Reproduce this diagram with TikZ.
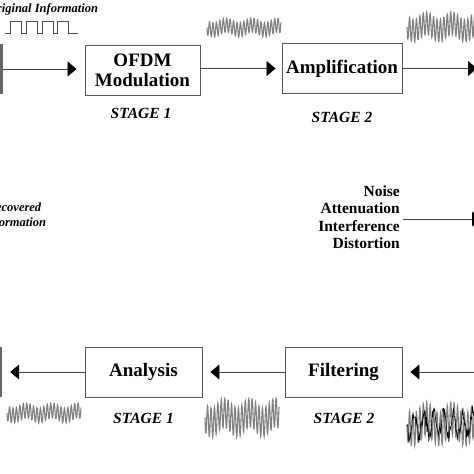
\documentclass[tikz,border=0pt]{standalone}
\usepackage{fontspec}
\setmainfont{Liberation Serif}
\usetikzlibrary{arrows.meta}

\tikzset{
    box/.style={draw=black!65, line width=0.9pt, minimum height=50pt, align=center,
        font=\fontsize{19}{20}\selectfont\bfseries},
    bar/.style={fill=black!60, minimum width=3pt, minimum height=50pt, inner sep=0pt},
    stage/.style={font=\fontsize{15.5}{17}\selectfont\bfseries\itshape},
    note/.style={font=\fontsize{12.5}{15}\selectfont\bfseries\itshape, align=center},
    flow/.style={black!75, line width=0.8pt, -{Triangle[length=9pt,width=15pt,color=black]}},
    wave/.style={black!50, line width=1.1pt},
}

\begin{document}
\begin{tikzpicture}[x=1pt, y=-1pt]
    \useasboundingbox (0,0) rectangle (474,474);
    \clip (0,0) rectangle (474,474);
    \pgfmathsetseed{7}

    % transmitter
    \node[note, anchor=base] (orig) at (43,12.5) {Original Information};
    \draw[black!70, line width=0.8pt] (5,33)
        \foreach \p in {10,26,42,57} { -- (\p,33) -- (\p,21) -- (\p+11,21) -- (\p+11,33) }
        -- (78,33);

    \node[bar] (src) at (1.5,69) {};
    \node[box, minimum width=115pt] (ofdm) at (142.5,70) {OFDM\\Modulation};
    \node[box, minimum width=120pt] (amp) at (342,68.5) {Amplification};
    \coordinate (txout) at (477,68.5);

    \node[stage] (tx1) at (141,113) {STAGE 1};
    \node[stage] (tx2) at (342,117) {STAGE 2};

    \draw[flow, shorten >=8pt] (src.east) -- (src.east -| ofdm.west);
    \draw[flow, shorten >=6pt] (ofdm.east |- amp) -- (amp.west);
    \draw[flow] (amp.east) -- (txout);

    \draw[wave] plot[domain=0:74, samples=300]
        ({207+\x}, {27.5+9.5*(0.75*sin(105*\x)+0.25*sin(14*\x))});
    \draw[wave] plot[domain=0:70, samples=300]
        ({407+\x}, {27+15*(0.75*sin(105*\x)+0.25*sin(14*\x))});

    % channel
    \node[note] (recov) at (14.5,216) {Recovered\\Information};
    \node[anchor=east, align=right, inner sep=3pt,
        font=\fontsize{15.5}{17.4}\selectfont\bfseries] (noise) at (403,217)
        {Noise\\Attenuation\\Interference\\Distortion};
    \coordinate (chout) at (481,219);
    \draw[flow] (noise.east |- chout) -- (chout);

    % receiver
    \coordinate (rxin) at (490,372);
    \node[box, minimum width=117pt] (filter) at (343.5,372) {Filtering};
    \node[box, minimum width=117pt] (analysis) at (143.5,372) {Analysis};
    \node[bar, minimum width=2pt] (sink) at (1,372) {};

    \node[stage] (rx1) at (143.5,418) {STAGE 1};
    \node[stage] (rx2) at (344,418) {STAGE 2};

    \draw[flow, shorten >=8pt] (rxin) -- (filter.east);
    \draw[flow, shorten >=8pt] (filter.west) -- (analysis.east);
    \draw[flow, shorten >=8pt] (analysis.west) -- (sink.east);

    \draw[wave] plot[domain=0:74, samples=300]
        ({7+\x}, {413+10*(0.75*sin(105*\x)+0.25*sin(14*\x))});
    \draw[wave] plot[domain=0:74, samples=300]
        ({205+\x}, {417.5+19.5*(0.75*sin(105*\x)+0.25*sin(14*\x))});
    \draw[wave] plot[domain=0:70, samples=300]
        ({407+\x}, {424+22*(0.75*sin(105*\x)+0.25*sin(14*\x))});
    \draw[black, line width=0.6pt] plot[domain=0:70, samples=120]
        ({407+\x}, {424+12*sin(37*\x)+7*rand});
\end{tikzpicture}
\end{document}
